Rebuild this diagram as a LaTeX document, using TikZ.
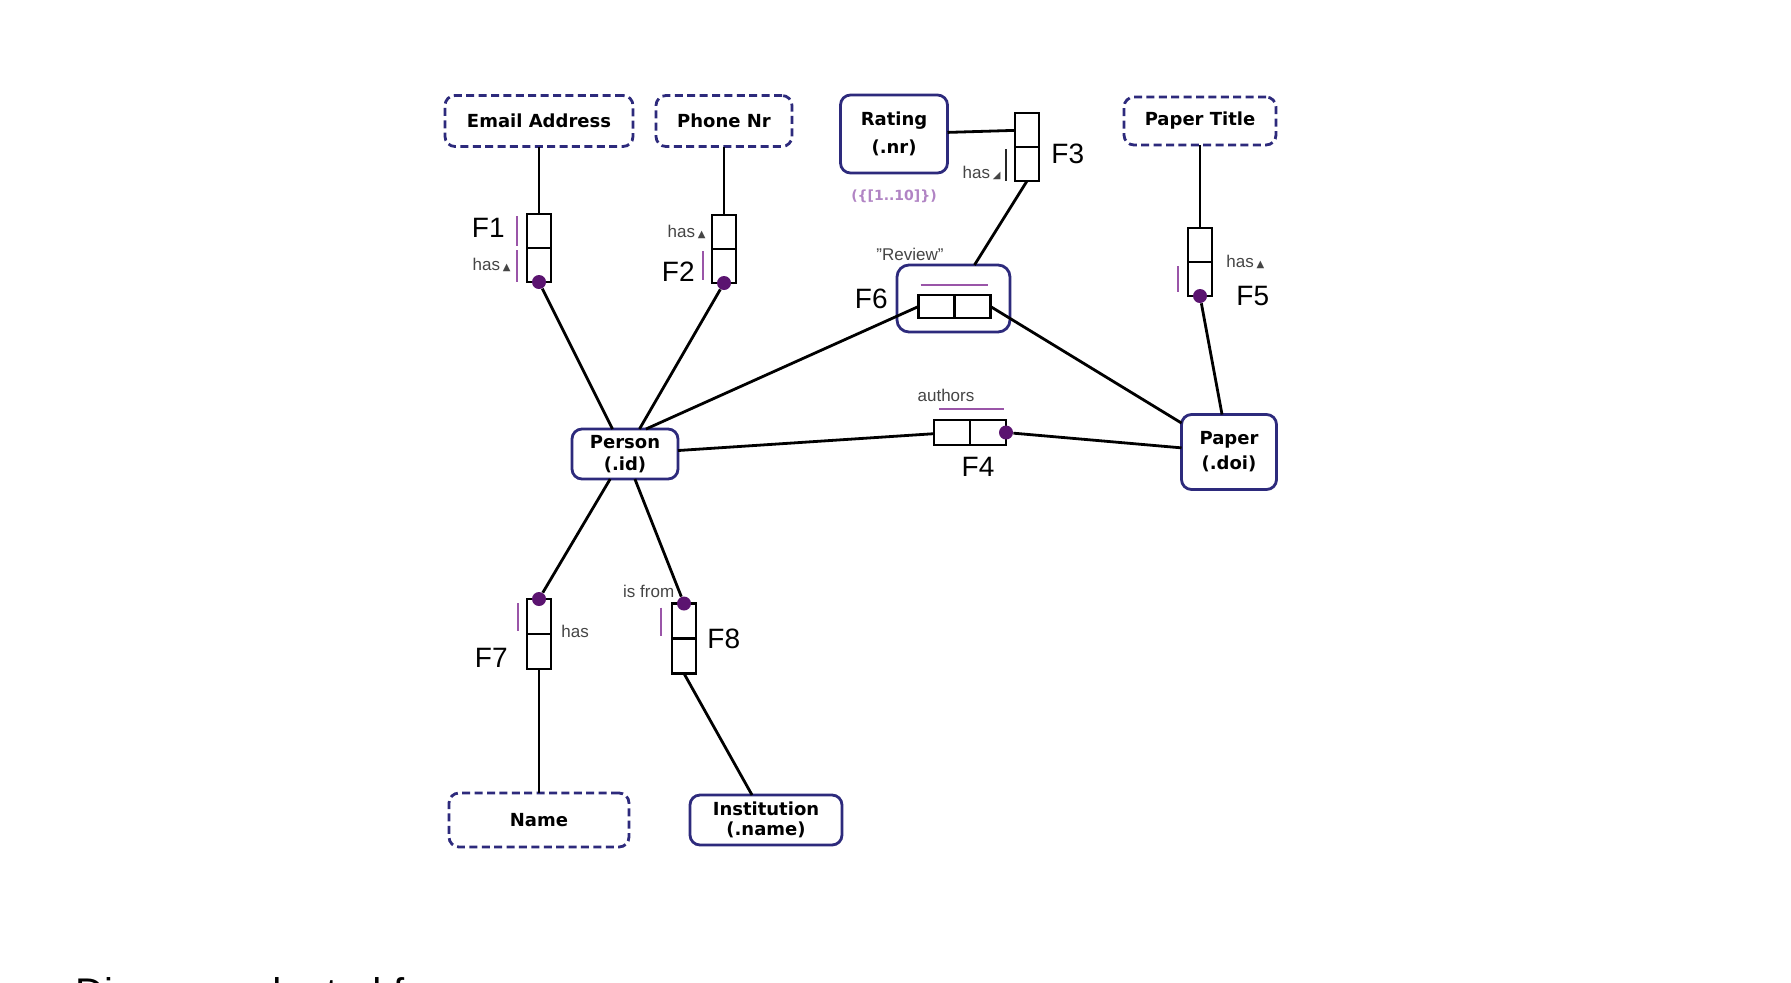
\documentclass[tikz,border=0pt]{standalone}
\usepackage{fontspec}
\setmainfont{Liberation Sans}
\newfontfamily\ormfont{DejaVu Sans}
\newfontfamily\trifont{DejaVu Sans}
\usetikzlibrary{positioning}

\definecolor{ormnavy}{HTML}{2D2A7C}
\definecolor{ormdot}{HTML}{5B1470}
\definecolor{ormbar}{HTML}{9A55A8}
\definecolor{ormpink}{HTML}{B184C4}
\definecolor{ormtext}{HTML}{454545}

\newcommand{\uptri}{{\trifont\fontsize{5}{5}\selectfont ▲}}
\newcommand{\cornertri}{{\trifont\fontsize{5}{5}\selectfont ◢}}

\tikzset{
  objtype/.style={draw=ormnavy, line width=1.4pt, rounded corners=5pt, align=center,
    inner sep=0pt, outer sep=0pt, font=\ormfont\bfseries\fontsize{9}{10}\selectfont},
  valtype/.style={objtype, dash pattern=on 4pt off 2.2pt},
  role/.style={draw, line width=1.1pt, fill=white, minimum width=12pt, minimum height=17pt,
    inner sep=0pt, outer sep=0pt},
  hrole/.style={role, minimum width=18pt, minimum height=12.5pt},
  mandot/.style={circle, fill=ormdot, minimum size=7pt, inner sep=0pt},
  conn/.style={line width=1.4pt},
  ubar/.style={draw=ormbar, line width=1.2pt},
  fname/.style={inner sep=1pt, font=\fontsize{14}{14}\selectfont},
  rname/.style={inner sep=1pt, text=ormtext, font=\fontsize{8.5}{9}\selectfont},
}

\begin{document}
\begin{tikzpicture}[x=0.5pt, y=-0.5pt, node distance=6pt]
\useasboundingbox (0,0) rectangle (1791,982);
\fill[white] (0,0) rectangle (1791,982);

% object types and value types
\node[valtype, minimum width=94pt, minimum height=25.5pt] (email) at (539,121) {Email Address};
\node[valtype, minimum width=68pt, minimum height=25.5pt] (phone) at (724,121) {Phone Nr};
\node[objtype, minimum width=53.5pt, minimum height=39pt] (rating) at (894,134) {Rating\\[4pt](.nr)};
\node[valtype, minimum width=76pt, minimum height=24pt] (title) at (1200,121) {Paper Title};
\node[objtype, minimum width=53pt, minimum height=25pt] (person) at (625,454) {Person\\[1pt](.id)};
\node[objtype, minimum width=47.5pt, minimum height=37.5pt] (paper) at (1229,452) {Paper\\[2.5pt](.doi)};
\node[valtype, minimum width=90pt, minimum height=27pt] (name) at (539,820) {Name};
\node[objtype, minimum width=76pt, minimum height=25pt] (inst) at (766,820) {Institution\\(.name)};

\node[below=7pt of rating, inner sep=1pt, text=ormpink,
  font=\ormfont\bfseries\fontsize{7}{7}\selectfont] (ratingvals) {(\{[1..10]\})};

% F1
\node[role] (f1a) at (539,231) {};
\node[role, below=0pt of f1a] (f1b) {};
\node[mandot] (f1dot) at (f1b.south) {};
\node[fname, left=10pt of f1a, yshift=1.5pt] (f1name) {F1};
\node[rname, left=7pt of f1b] (f1reading) {has\,\uptri};

% F2
\node[role] (f2a) at (724,232) {};
\node[role, below=0pt of f2a] (f2b) {};
\node[mandot] (f2dot) at (f2b.south) {};
\node[rname, left=2pt of f2a] (f2reading) {has\,\uptri};
\node[fname, left=7.5pt of f2b, yshift=-3pt] (f2name) {F2};

% F3
\node[role] (f3a) at (1027,130) {};
\node[role, below=0pt of f3a] (f3b) {};
\node[fname, right=5pt of f3b, yshift=5pt] (f3name) {F3};
\node[rname, left=6pt of f3b, yshift=-4.5pt] (f3reading) {has\,\cornertri};

% F4
\node[hrole] (f4a) at (952,432.5) {};
\node[hrole, right=0pt of f4a] (f4b) {};
\node[mandot] (f4dot) at (f4b.east) {};
\node[rname, above=8pt of f4a, xshift=-3pt] (f4reading) {authors};
\node[fname, below=5pt of f4a.south east, xshift=4pt] (f4name) {F4};

% F5
\node[role] (f5a) at (1200,245) {};
\node[role, below=0pt of f5a] (f5b) {};
\node[mandot] (f5dot) at (f5b.south) {};
\node[rname, right=6pt of f5a.south east] (f5reading) {has\,\uptri};
\node[fname, right=11pt of f5b.south east] (f5name) {F5};

% F6 (objectified)
\node[hrole, minimum height=11.5pt] (f6a) at (936.5,306.5) {};
\node[hrole, minimum height=11.5pt, right=0pt of f6a] (f6b) {};
\node[objtype, rounded corners=6pt, minimum width=56.5pt, minimum height=33.5pt] (review) at (953.5,298.5) {};
\node[rname, above=1pt of review.north west, xshift=6.5pt] (f6reading) {"Review"};
\node[fname, left=3.5pt of review] (f6name) {F6};

% F7
\node[role, minimum height=17.5pt] (f7a) at (539,616.5) {};
\node[role, minimum height=17.5pt, below=0pt of f7a] (f7b) {};
\node[mandot] (f7dot) at (f7a.north) {};
\node[rname, right=4pt of f7a.south east, yshift=1.5pt] (f7reading) {has};
\node[fname, left=8.5pt of f7b, yshift=-3pt] (f7name) {F7};

% F8
\node[role, minimum height=17.5pt] (f8a) at (684,621) {};
\node[role, minimum height=17.5pt, below=0pt of f8a] (f8b) {};
\node[mandot] (f8dot) at (f8a.north) {};
\node[rname, left=0pt of f8dot, yshift=6pt] (f8reading) {is from};
\node[fname, right=4.5pt of f8a.south east] (f8name) {F8};

% uniqueness bars
\draw[ubar] ([xshift=-5pt,yshift=-1pt]f1a.north west) -- ([xshift=-5pt,yshift=1pt]f1a.south west);
\draw[ubar] ([xshift=-5pt,yshift=-1pt]f1b.north west) -- ([xshift=-5pt]f1b.south west);
\draw[ubar] ([xshift=-4.5pt,yshift=-1pt]f2b.north west) -- ([xshift=-4.5pt,yshift=1.5pt]f2b.south west);
\draw[ubar, draw=black!85] ([xshift=-4.5pt,yshift=-1pt]f3b.north west) -- ([xshift=-4.5pt]f3b.south west);
\draw[ubar] ([xshift=2.5pt,yshift=5.5pt]f4a.north west) -- ([xshift=-1pt,yshift=5.5pt]f4b.north east);
\draw[ubar] ([xshift=-5pt,yshift=-2pt]f5b.north west) -- ([xshift=-5pt,yshift=2pt]f5b.south west);
\draw[ubar] ([xshift=1pt,yshift=5pt]f6a.north west) -- ([xshift=-1.5pt,yshift=5pt]f6b.north east);
\draw[ubar] ([xshift=-4.5pt,yshift=-2pt]f7a.north west) -- ([xshift=-4.5pt,yshift=1.5pt]f7a.south west);
\draw[ubar] ([xshift=-5.5pt,yshift=-2pt]f8a.north west) -- ([xshift=-5.5pt,yshift=1.5pt]f8a.south west);

% connectors
\draw[conn] (email) -- (f1a);
\draw[conn] (f1dot) -- (person);
\draw[conn] (phone) -- (f2a);
\draw[conn] (f2dot) -- (person);
\draw[conn] (rating) -- (f3a);
\draw[conn] (f3b.south) -- (review);
\draw[conn] (person.50) -- (f6a.west);
\draw[conn] (f6b.east) -- (paper);
\draw[conn] (person) -- (f4a);
\draw[conn] (f4dot) -- (paper);
\draw[conn] (title) -- (f5a);
\draw[conn] (f5dot) -- (paper);
\draw[conn] (person) -- (f7dot);
\draw[conn] (f7b) -- (name);
\draw[conn] (person) -- (f8dot);
\draw[conn] (f8b.south) -- (inst);

\node[anchor=north west, inner sep=0pt, font=\fontsize{20}{20}\selectfont] (credit) at (75,977) {Diagram adapted from};
\end{tikzpicture}
\end{document}
